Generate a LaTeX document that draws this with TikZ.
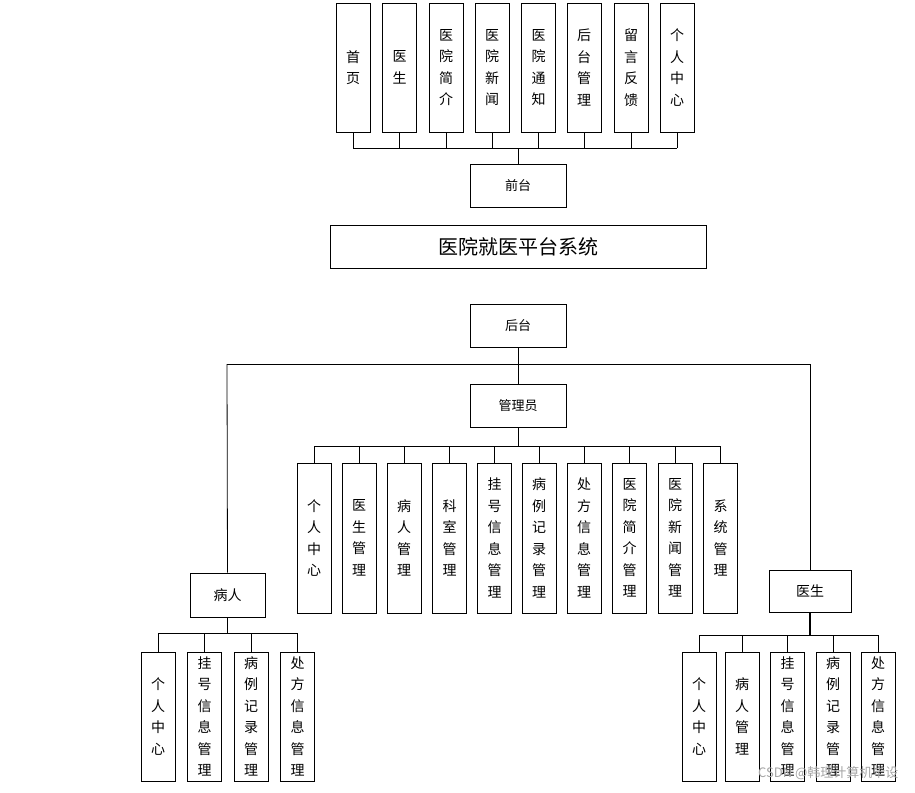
\documentclass[tikz,border=0pt]{standalone}
\usepackage{fontspec}
\newfontfamily\cjk{Noto Sans CJK SC}
\begin{document}
\begin{tikzpicture}[x=1pt,y=-1pt,
  bx/.style={draw,line width=0.8pt,fill=white,inner sep=0pt,font=\cjk\fontsize{14}{21.5}\selectfont,align=center},
  ln/.style={line width=0.8pt}]
\useasboundingbox (0,0) rectangle (915,792);
% top row
\foreach \n/\x/\t in {t1/353/首\\页,t2/399.5/医\\生,t3/446/医\\院\\简\\介,t4/492/医\\院\\新\\闻,t5/538.5/医\\院\\通\\知,t6/584/后\\台\\管\\理,t7/631/留\\言\\反\\馈,t8/677/个\\人\\中\\心}{
  \node[bx,minimum width=34pt,minimum height=129pt] (\n) at (\x,67.5) {\t};
  \draw[ln] (\n.south) -- (\x,148);
}
\draw[ln] (353,148) -- (677,148);
\node[bx,minimum width=96pt,minimum height=43pt,font=\cjk\fontsize{13}{16}\selectfont] (qt) at (518,185.5) {前台};
\draw[ln] (518,148) -- (qt.north);
\node[bx,minimum width=376pt,minimum height=43pt,font=\cjk\fontsize{20}{24}\selectfont] (sys) at (518,246.5) {医院就医平台系统};
\node[bx,minimum width=96pt,minimum height=43pt,font=\cjk\fontsize{13}{16}\selectfont] (ht) at (518,325.5) {后台};
\node[bx,minimum width=96pt,minimum height=43pt,font=\cjk\fontsize{13}{16}\selectfont] (gly) at (518,405.5) {管理员};
\draw[ln] (ht.south) -- (gly.north);
\draw[ln] (227,364) -- (810,364);
\node[bx,minimum width=75pt,minimum height=44pt,font=\cjk\fontsize{14}{16}\selectfont] (br) at (227.5,595) {病人};
\node[bx,minimum width=82pt,minimum height=42pt,font=\cjk\fontsize{14}{16}\selectfont] (ys) at (810,591) {医生};
\draw[ln] (227,364) -- (br.north);
\draw[ln] (810,364) -- (ys.north);
% admin children
\draw[ln] (gly.south) -- (518,446);
\draw[ln] (314,446) -- (721,446);
\foreach \n/\x/\t in {a1/314/个\\人\\中\\心,a2/359/医\\生\\管\\理,a3/404/病\\人\\管\\理,a4/449.5/科\\室\\管\\理,a5/494.5/挂\\号\\信\\息\\管\\理,a6/539/病\\例\\记\\录\\管\\理,a7/584/处\\方\\信\\息\\管\\理,a8/629.5/医\\院\\简\\介\\管\\理,a9/675/医\\院\\新\\闻\\管\\理,a10/720.5/系\\统\\管\\理}{
  \node[bx,minimum width=34pt,minimum height=150pt] (\n) at (\x,538) {\t};
  \draw[ln] (\x,446) -- (\n.north);
}
% patient children
\draw[line width=1.6pt] (br.south) -- (227.5,633);
\draw[ln] (158,633) -- (298,633);
\foreach \n/\x/\t in {p1/158/个\\人\\中\\心,p2/204.5/挂\\号\\信\\息\\管\\理,p3/251/病\\例\\记\\录\\管\\理,p4/297.5/处\\方\\信\\息\\管\\理}{
  \node[bx,minimum width=34pt,minimum height=129pt] (\n) at (\x,716.5) {\t};
  \draw[ln] (\x,633) -- (\n.north);
}
% doctor children
\draw[line width=1.6pt] (ys.south) -- (810,635);
\draw[ln] (699,635) -- (878,635);
\foreach \n/\x/\t in {d1/699/个\\人\\中\\心,d2/742/病\\人\\管\\理,d3/787.5/挂\\号\\信\\息\\管\\理,d4/833/病\\例\\记\\录\\管\\理,d5/878/处\\方\\信\\息\\管\\理}{
  \node[bx,minimum width=34pt,minimum height=129pt] (\n) at (\x,716.5) {\t};
  \draw[ln] (\x,635) -- (\n.north);
}
\node[text=gray!70,font=\cjk\fontsize{13}{15}\selectfont,anchor=east] (wm) at (902,773) {CSDN @韩理计算机毕设};
\end{tikzpicture}
\end{document}
